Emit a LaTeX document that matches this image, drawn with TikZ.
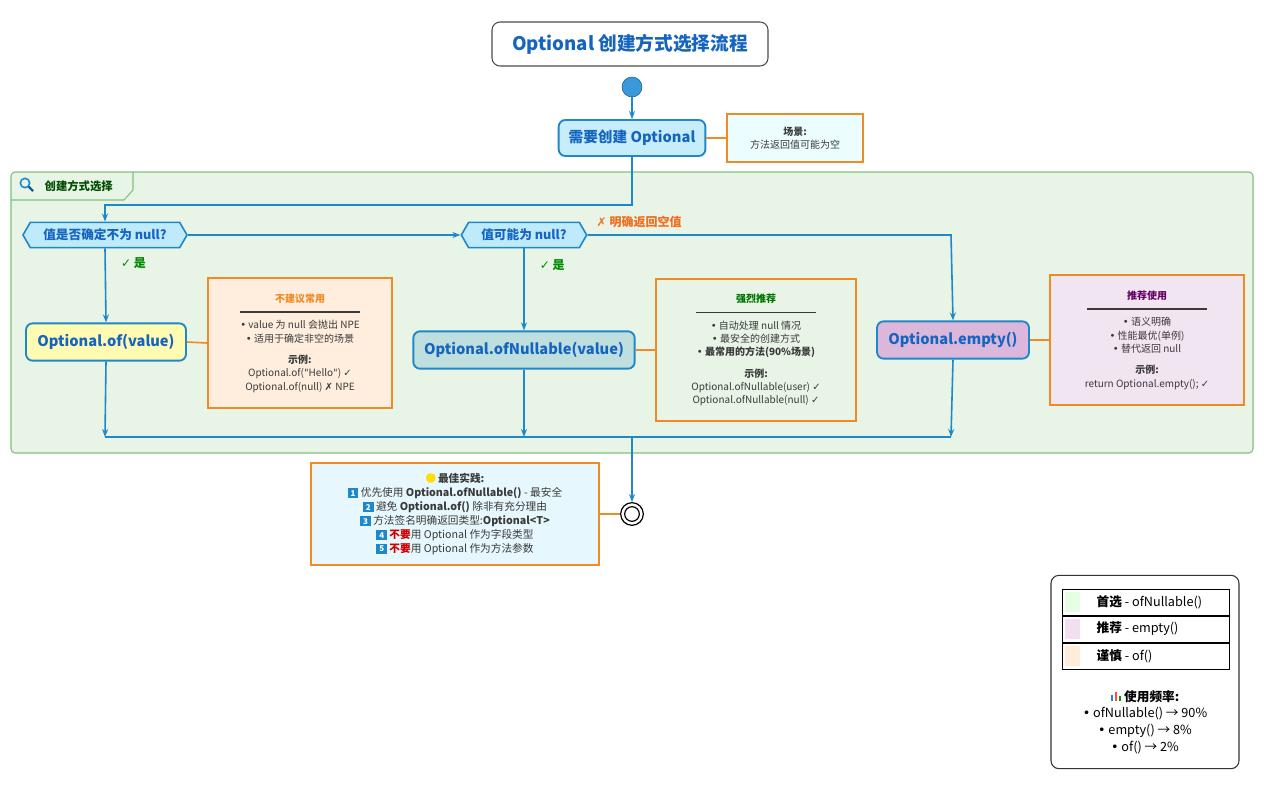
\documentclass[tikz,border=0pt]{standalone}
\usepackage{fontspec}
\setmainfont{Noto Sans CJK SC}
\newfontfamily\sym{DejaVu Sans}
\newcommand{\bu}{{\sym •}}
\newcommand{\xm}{{\sym ✗}}
\newcommand{\ck}{{\sym ✓}}
\newcommand{\qq}{{\sym\char"22}}
\usetikzlibrary{shapes.symbols,shapes.geometric,arrows.meta}
\definecolor{blu}{HTML}{1E88C8}
\definecolor{dblu}{HTML}{1565C0}
\definecolor{org}{HTML}{F08A24}
\definecolor{grn}{HTML}{7CC47C}
\definecolor{gbg}{HTML}{E7F4E6}
\definecolor{txt}{HTML}{3A3A3A}
\tikzset{
 x=0.75pt,y=-0.75pt,
 flow/.style={draw=blu,line width=1.2pt,-{Stealth[length=6pt]}},
 line/.style={draw=blu,line width=1.2pt},
 box/.style={draw=blu,line width=1.4pt,rounded corners=5pt,font=\bfseries\fontsize{11}{13}\selectfont,text=dblu},
 hex/.style={draw=blu,line width=1.2pt,fill=cyan!25,signal,signal to=east and west,signal pointer angle=120,font=\bfseries\fontsize{9.5}{11}\selectfont,text=dblu,inner sep=2pt,minimum height=19pt},
 note/.style={draw=org,line width=1.4pt,align=center,font=\fontsize{7.5}{10}\selectfont,text=txt},
 lab/.style={font=\bfseries\fontsize{9}{11}\selectfont},
 num/.style={fill=blu,text=white,font=\bfseries\fontsize{6}{6}\selectfont,inner sep=1.2pt,minimum size=8pt},
}
\newcommand{\nb}[1]{\tikz[baseline=-2.5pt]\node[num]{#1};}
\begin{document}
\begin{tikzpicture}
\useasboundingbox (0,0) rectangle (1264,793);
\fill[white] (0,0) rectangle (1264,793);
% title
\node[draw=black!70,line width=0.8pt,rounded corners=6pt,minimum width=207pt,minimum height=33pt,font=\bfseries\fontsize{14}{16}\selectfont,text=dblu] (title) at (630,44) {Optional 创建方式选择流程};
% group
\draw[draw=grn,fill=gbg,line width=0.8pt,rounded corners=3pt] (11,172) rectangle (1253,453);
\draw[grn,line width=0.8pt] (11,200) -- (124,200) -- (133,190) -- (133,172);
\node[anchor=west,font=\bfseries\fontsize{8.5}{10}\selectfont,text=black!70!green] (gl) at (40,186) {创建方式选择};
\draw[blu,line width=1.2pt] (25,183) circle (3.5pt); \draw[blu!70!black,line width=1.6pt] (28.5,186.5) -- (33,191);
% start
\node[circle,draw=blu!70!black,fill=cyan!70!blue!80,minimum size=15pt,inner sep=0pt] (start) at (632,87) {};
\node[box,fill=cyan!22,minimum width=110pt,minimum height=27pt] (need) at (632,138) {需要创建 Optional};
\draw[flow] (start) -- (need);
\node[note,fill=blue!8!cyan!8,minimum width=102pt,minimum height=36pt] (n0) at (795,138) {\textbf{场景:}\\方法返回值可能为空};
\draw[org,line width=1.2pt] (need.east) -- (n0.west);
% hexes
\node[hex,minimum width=123pt] (h1) at (105,235) {值是否确定不为 null?};
\node[hex,minimum width=94pt] (h2) at (524,235) {值可能为 null?};
\coordinate (c1) at (632,205);
\draw[flow] (need.south) -- (c1) -| (h1.north);
\draw[flow] (h1.east) -- (h2.west);
% boxes
\node[box,fill=yellow!30,minimum width=120pt,minimum height=28pt] (of) at (106,342) {Optional.of(value)};
\node[box,fill=teal!25,minimum width=166pt,minimum height=28pt] (ofn) at (524,350) {Optional.ofNullable(value)};
\node[box,fill=violet!28,minimum width=114pt,minimum height=28pt] (emp) at (953,340) {Optional.empty()};
\draw[flow] (h1.south) -- (of.north) node[pos=0.2,right=8pt,lab,text=green!55!black]{\ck\ 是};
\draw[flow] (h2.south) -- (ofn.north) node[pos=0.2,right=8pt,lab,text=green!55!black]{\ck\ 是};
\coordinate (c2) at (951,235);
\draw[flow] (h2.east) -- (c2) -- (emp.north);
\node[lab,text=org!80!red,anchor=west] (lx) at (592,222) {\xm\ 明确返回空值};
% notes
\node[note,fill=orange!13,minimum width=138pt,minimum height=97pt] (n1) at (300,343) {\textcolor{org}{\textbf{不建议常用}}\\\rule[2pt]{90pt}{1pt}\\\bu\ value 为 null 会抛出 NPE\\\bu\ 适用于确定非空的场景\\[6pt]\textbf{示例:}\\Optional.of(\qq Hello\qq) \ck\\Optional.of(null) \xm\ NPE};
\draw[org,line width=1.2pt] (of.east) -- (n1.west);
\node[note,fill=gbg,minimum width=150pt,minimum height=106pt] (n2) at (756,350) {\textcolor{green!45!black}{\textbf{强烈推荐}}\\\rule[2pt]{90pt}{1pt}\\\bu\ 自动处理 null 情况\\\bu\ 最安全的创建方式\\\bu\ \textbf{最常用的方法(90\%场景)}\\[6pt]\textbf{示例:}\\Optional.ofNullable(user) \ck\\Optional.ofNullable(null) \ck};
\draw[org,line width=1.2pt] (ofn.east) -- (n2.west);
\node[note,fill=violet!10,minimum width=146pt,minimum height=97pt] (n3) at (1147,340) {\textcolor{violet!80!black}{\textbf{推荐使用}}\\\rule[2pt]{90pt}{1pt}\\\bu\ 语义明确\\\bu\ 性能最优(单例)\\\bu\ 替代返回 null\\[6pt]\textbf{示例:}\\return Optional.empty(); \ck};
\draw[org,line width=1.2pt] (emp.east) -- (n3.west);
% merge
\coordinate (m1) at (105,437); \coordinate (m2) at (524,437); \coordinate (m3) at (951,437); \coordinate (m0) at (632,437);
\draw[flow] (of.south) -- (m1);
\draw[flow] (ofn.south) -- (m2);
\draw[flow] (emp.south) -- (m3);
\draw[line] (m1) -- (m3);
\node[circle,draw=black,line width=0.9pt,minimum size=17pt,inner sep=0pt] (end) at (632,514) {};
\node[circle,draw=black,line width=0.9pt,minimum size=11pt,inner sep=0pt] at (end) {};
\draw[flow] (m0) -- (end.north);
% best practice
\node[note,fill=cyan!10,minimum width=216pt,minimum height=77pt,font=\fontsize{8}{10.5}\selectfont] (bp) at (455,514) {\textcolor{yellow!80!orange}{●}\,\textbf{最佳实践:}\\\nb{1} 优先使用 \textbf{Optional.ofNullable()} - 最安全\\\nb{2} 避免 \textbf{Optional.of()} 除非有充分理由\\\nb{3} 方法签名明确返回类型:\textbf{Optional<T>}\\\nb{4} \textcolor{red!80!black}{\textbf{不要}}用 Optional 作为字段类型\\\nb{5} \textcolor{red!80!black}{\textbf{不要}}用 Optional 作为方法参数};
\draw[org,line width=1.2pt] (bp.east) -- (end.west);
% legend
\node[draw=black!80,line width=0.8pt,rounded corners=6pt,minimum width=141pt,minimum height=145pt] (leg) at (1145,672) {};
\foreach \y/\c/\a/\b [count=\i] in {602/green!10/首选/ofNullable(),629/violet!12/推荐/empty(),656/orange!15/谨慎/of()}{
 \draw[black,line width=0.7pt] (1062,\y-13) rectangle (1229,\y+13);
 \fill[\c] (1065,\y-10) rectangle (1080,\y+10);
 \node[anchor=west,font=\fontsize{9.5}{11}\selectfont] (l\i) at (1092,\y) {\textbf{\a} - \b};
}
\node[align=center,font=\fontsize{9.5}{12.5}\selectfont] (freq) at (1145,722) {\tikz[baseline=0pt]{\fill[blu] (0,0) rectangle (2pt,5pt);\fill[red!70] (3pt,0) rectangle (5pt,7pt);\fill[green!60!black] (6pt,0) rectangle (8pt,4pt);}\ \textbf{使用频率:}\\\bu\ ofNullable() → 90\%\\\bu\ empty() → 8\%\\\bu\ of() → 2\%};
\end{tikzpicture}
\end{document}
